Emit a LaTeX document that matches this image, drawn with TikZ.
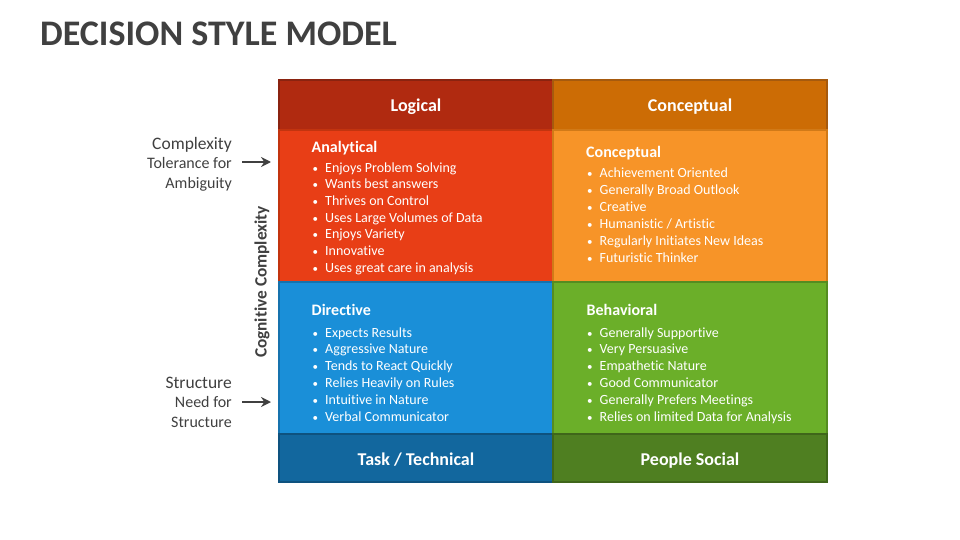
\documentclass[tikz,border=0pt]{standalone}
\usepackage{fontspec}
\setmainfont[Ligatures=NoCommon]{Carlito}
\usetikzlibrary{arrows.meta}
\definecolor{dgray}{HTML}{404040}
\definecolor{logF}{HTML}{B02A10}\definecolor{logD}{HTML}{8A2310}
\definecolor{conF}{HTML}{CC6C05}\definecolor{conD}{HTML}{A65A0E}
\definecolor{anaF}{HTML}{E83E16}\definecolor{anaD}{HTML}{C2340F}
\definecolor{cnpF}{HTML}{F79428}\definecolor{cnpD}{HTML}{D17A18}
\definecolor{dirF}{HTML}{1A8FD8}\definecolor{dirD}{HTML}{1672AD}
\definecolor{behF}{HTML}{6BAF29}\definecolor{behD}{HTML}{558C21}
\definecolor{tasF}{HTML}{12679E}\definecolor{tasD}{HTML}{0E527F}
\definecolor{peoF}{HTML}{4F7F21}\definecolor{peoD}{HTML}{3F661A}
\newcommand\bulmark{\makebox[0pt][r]{{\fontsize{11}{12}\selectfont\textbullet}\hspace{7pt}}}
\begin{document}
\begin{tikzpicture}[x=1pt,y=-1pt,
  cellbox/.style={rectangle, inner sep=0, line width=1.5pt, minimum width=274pt},
  hdr/.style={text=white, font=\bfseries\fontsize{18}{20}\selectfont, anchor=base, inner sep=0},
  ctitle/.style={text=white, font=\bfseries\fontsize{16}{18}\selectfont, anchor=base west, inner sep=0},
  itm/.style={text=white, font=\fontsize{14}{16}\selectfont, anchor=base west, inner sep=0},
  side/.style={text=dgray, anchor=base east, inner sep=0},
  arr/.style={-{Stealth[length=10pt,width=10pt]}, line width=2.2pt, draw=dgray}]
\path[use as bounding box] (0,0) rectangle (960,540);
% title
\node[anchor=base west, inner sep=0, text=dgray, font=\bfseries\fontsize{36}{40}\selectfont] (title) at (40,45.5) {DECISION STYLE MODEL};
% boxes
\node[cellbox, fill=logF, draw=logD, minimum height=50pt] (hlog) at (416,105) {};
\node[cellbox, fill=conF, draw=conD, minimum height=50pt] (hcon) at (690,105) {};
\node[cellbox, fill=anaF, draw=anaD, minimum height=152pt] (cana) at (416,206) {};
\node[cellbox, fill=cnpF, draw=cnpD, minimum height=152pt] (ccnp) at (690,206) {};
\node[cellbox, fill=dirF, draw=dirD, minimum height=152pt] (cdir) at (416,358) {};
\node[cellbox, fill=behF, draw=behD, minimum height=152pt] (cbeh) at (690,358) {};
\node[cellbox, fill=tasF, draw=tasD, minimum height=48pt] (btas) at (416,458) {};
\node[cellbox, fill=peoF, draw=peoD, minimum height=48pt] (bpeo) at (690,458) {};
% header labels
\node[hdr] (tlog) at (416,111.5) {Logical};
\node[hdr] (tcon) at (690,111.5) {Conceptual};
\node[hdr] (ttas) at (416,465.5) {Task / Technical};
\node[hdr] (tpeo) at (690,465.5) {People Social};
% cell titles
\node[ctitle] (ana) at (311.5,153) {Analytical};
\node[ctitle] (cnp) at (586,158) {Conceptual};
\node[ctitle] (dir) at (311.5,315) {Directive};
\node[ctitle] (beh) at (586.5,315) {Behavioral};
% items
\foreach \t [count=\i] in {Enjoys Problem Solving, Wants best answers, Thrives on Control, Uses Large Volumes of Data, Enjoys Variety, Innovative, Uses great care in analysis}
  \node[itm, name=ia\i] at (325,{172+16.67*(\i-1)}) {\bulmark\t};
\foreach \t [count=\i] in {Achievement Oriented, Generally Broad Outlook, Creative, Humanistic / Artistic, Regularly Initiates New Ideas, Futuristic Thinker}
  \node[itm, name=ic\i] at (599.5,{178+16.8*(\i-1)}) {\bulmark\t};
\foreach \t [count=\i] in {Expects Results, Aggressive Nature, Tends to React Quickly, Relies Heavily on Rules, Intuitive in Nature, Verbal Communicator}
  \node[itm, name=id\i] at (325,{337+16.8*(\i-1)}) {\bulmark\t};
\foreach \t [count=\i] in {Generally Supportive, Very Persuasive, Empathetic Nature, Good Communicator, Generally Prefers Meetings, Relies on limited Data for Analysis}
  \node[itm, name=ib\i] at (599.5,{337+16.8*(\i-1)}) {\bulmark\t};
% side labels
\node[side, font=\fontsize{17.5}{20}\selectfont] (s1) at (232,150) {Complexity};
\node[side, font=\fontsize{16}{18}\selectfont] (s2) at (232,169) {Tolerance for};
\node[side, font=\fontsize{16}{18}\selectfont] (s3) at (232,188) {Ambiguity};
\node[side, font=\fontsize{17.5}{20}\selectfont] (s4) at (232,388) {Structure};
\node[side, font=\fontsize{16}{18}\selectfont] (s5) at (232,407.5) {Need for};
\node[side, font=\fontsize{16}{18}\selectfont] (s6) at (232,427) {Structure};
\coordinate (a1s) at (242,162);
\coordinate (a1e) at (271,162);
\coordinate (a2s) at (242,402);
\coordinate (a2e) at (271,402);
\draw[arr] (a1s) -- (a1e);
\draw[arr] (a2s) -- (a2e);
\node[text=dgray, font=\bfseries\fontsize{17.3}{19}\selectfont, rotate=90, inner sep=0] (cog) at (262,282) {Cognitive Complexity};
\end{tikzpicture}
\end{document}
